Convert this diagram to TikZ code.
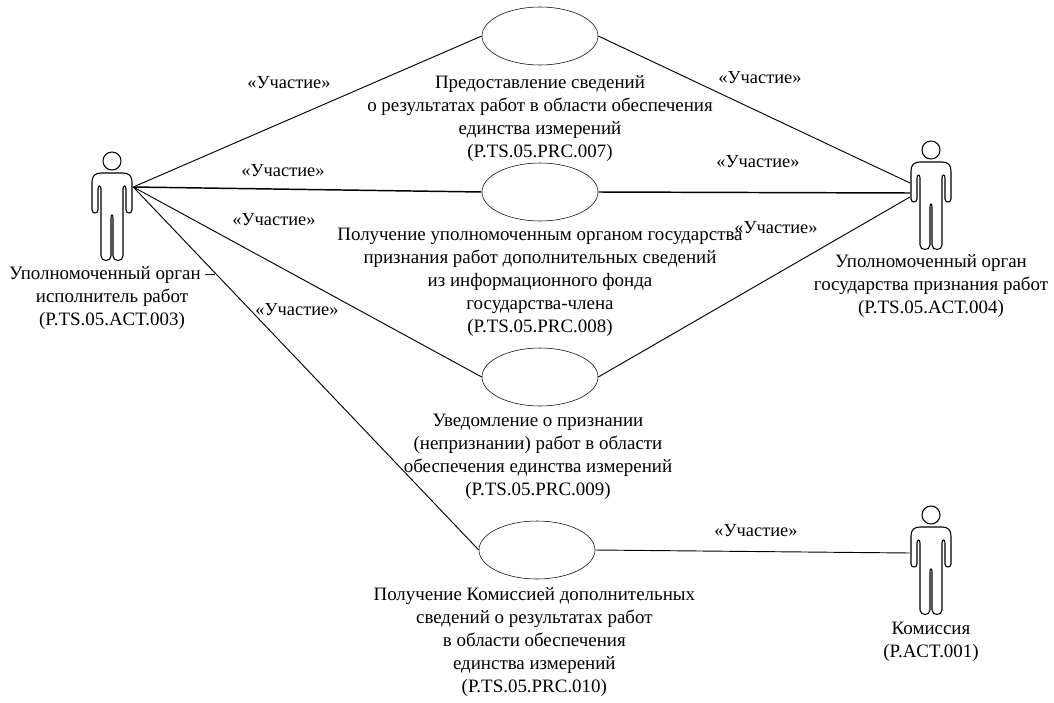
\documentclass[tikz,border=0pt]{standalone}
\usepackage{fontspec}
\setmainfont{Liberation Serif}
\usetikzlibrary{positioning,shapes.geometric}
\tikzset{
  usecase/.style={draw, ellipse, inner sep=0pt, minimum width=87pt, minimum height=43.5pt},
  actorbox/.style={inner sep=0pt, minimum width=31.5pt, minimum height=1pt},
  caption/.style={align=center, inner sep=0pt, font=\fontsize{14.2}{17.2}\selectfont},
  role/.style={inner sep=0pt, font=\fontsize{13.8}{15}\selectfont},
  link/.style={line width=0.7pt}
}
\newcommand\actorman[1]{
  \draw[line width=0.8pt, shift={(#1)}] (0,-26) circle[radius=9];
  \draw[line width=0.8pt, shift={(#1)}]
    (-11,-14) -- (11,-14) .. controls (17,-14) and (20,-11) .. (20,-5) -- (20,23)
    .. controls (20,27) and (14,27) .. (14,23) -- (14,2)
    .. controls (14,-2) and (11,-2) .. (11,2) -- (11,69)
    .. controls (11,75) and (1,75) .. (1,69) -- (1,31)
    .. controls (1,27) and (-1,27) .. (-1,31) -- (-1,69)
    .. controls (-1,75) and (-11,75) .. (-11,69) -- (-11,2)
    .. controls (-11,-2) and (-14,-2) .. (-14,2) -- (-14,23)
    .. controls (-14,27) and (-20,27) .. (-20,23) -- (-20,-5)
    .. controls (-20,-11) and (-17,-14) .. (-11,-14) -- cycle;
}
\begin{document}
\begin{tikzpicture}[x=0.75pt, y=-0.75pt]
  \useasboundingbox (0,0) rectangle (1054,703);

  \node[usecase] (prcA) at (540,36) {};
  \node[usecase] (prcB) at (540,192) {};
  \node[usecase] (prcC) at (540,377) {};
  \node[usecase] (prcD) at (537,550) {};

  \node[caption, below=7.5pt of prcA] {Предоставление сведений\\о результатах работ в области обеспечения\\единства измерений\\(P.TS.05.PRC.007)};
  \node[caption, below=5pt of prcB] {Получение уполномоченным органом государства\\признания работ дополнительных сведений\\из информационного фонда\\государства-члена\\(P.TS.05.PRC.008)};
  \node[caption, below=5.5pt of prcC, xshift=-1.5pt] {Уведомление о признании\\(непризнании) работ в области\\обеспечения единства измерений\\(P.TS.05.PRC.009)};
  \node[caption, below=6pt of prcD, xshift=-2pt] {Получение Комиссией дополнительных\\сведений о результатах работ\\в области обеспечения\\единства измерений\\(P.TS.05.PRC.010)};

  \node[actorbox] (actExec) at (112,187) {};
  \node[actorbox] (actState) at (931,190) {};
  \node[actorbox] (actComm) at (931,553) {};
  \coordinate (stateA) at (910,183);
  \coordinate (stateB) at (910,193);
  \coordinate (stateC) at (910,197);
  \actorman{112,187}
  \actorman{931,176}
  \actorman{931,541}

  \node[caption, below=58.5pt of actExec] {Уполномоченный орган –\\исполнитель работ\\(P.TS.05.ACT.003)};
  \node[caption, below=47.5pt of actState] {Уполномоченный орган\\государства признания работ\\(P.TS.05.ACT.004)};
  \node[caption, below=51pt of actComm] {Комиссия\\(P.ACT.001)};

  \draw[link] (actExec.east) -- (prcA.west);
  \draw[link, line width=1.1pt] (actExec.east) -- (prcB.west);
  \draw[link] (actExec.east) -- (prcC.west);
  \draw[link] (actExec.east) -- (prcD.west);
  \draw[link] (stateA) -- (prcA.east);
  \draw[link, line width=1.1pt] (stateB) -- (prcB.east);
  \draw[link] (stateC) -- (prcC.east);
  \draw[link] (actComm.west) -- (prcD.east);

  \node[role] (roleA) at (289,83) {«Участие»};
  \node[role] (roleB) at (283,171) {«Участие»};
  \node[role] (roleC) at (274,220) {«Участие»};
  \node[role] (roleD) at (297,310) {«Участие»};
  \node[role] (roleE) at (760,78) {«Участие»};
  \node[role] (roleF) at (758,162) {«Участие»};
  \node[role] (roleG) at (776,228) {«Участие»};
  \node[role] (roleH) at (756,531) {«Участие»};
\end{tikzpicture}
\end{document}
